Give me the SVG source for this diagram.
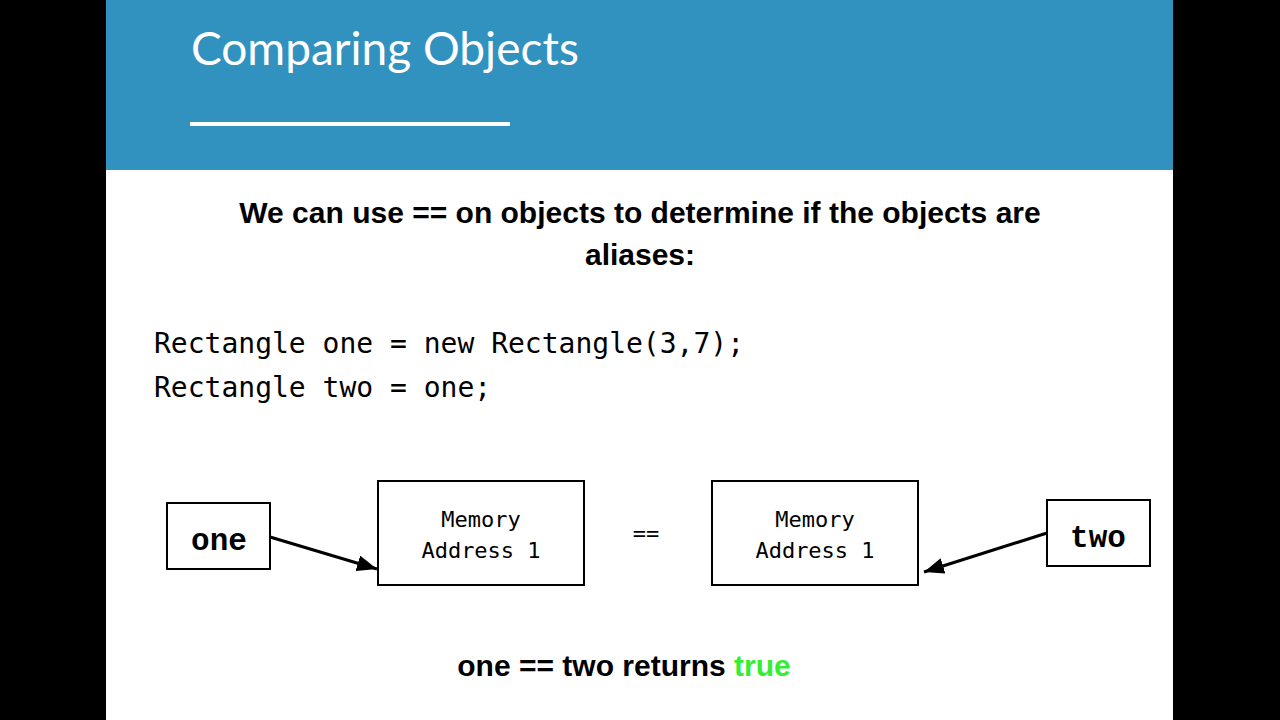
<svg xmlns="http://www.w3.org/2000/svg" width="1280" height="720" viewBox="0 0 1280 720">
<style>
.box{fill:#fff;stroke:#000;stroke-width:2}
.mono{font-family:"DejaVu Sans Mono","Liberation Mono",monospace;fill:#000}
.b{font-family:"Liberation Sans","Noto Sans",sans-serif;font-weight:bold;font-size:30px;fill:#000}
.cour{font-family:"Liberation Mono",monospace;font-weight:bold;font-size:31px;fill:#000}
</style>
<defs><marker id="ah" markerWidth="10" markerHeight="8" refX="9" refY="4" orient="auto" markerUnits="userSpaceOnUse"><path d="M0,0 L20,4 L0,8 Z" transform="scale(0.5,1)"/></marker>
<marker id="a2" viewBox="0 0 10 10" refX="10" refY="5" markerWidth="20" markerHeight="16" orient="auto" markerUnits="userSpaceOnUse" preserveAspectRatio="none"><path d="M0,0 L10,5 L0,10 Z"/></marker></defs>
<rect width="1280" height="720" fill="#000"/>
<rect x="106" y="0" width="1067" height="720" fill="#fff"/>
<rect x="106" y="0" width="1067" height="170" fill="#3292bf"/>
<text x="191" y="65" font-family="Lato,'Open Sans',sans-serif" font-size="46" fill="#fff">Comparing Objects</text>
<rect x="190" y="122" width="320" height="4" fill="#fff"/>
<text class="b" x="640" y="223" text-anchor="middle">We can use == on objects to determine if the objects are</text>
<text class="b" x="640" y="265" text-anchor="middle">aliases:</text>
<text class="mono" x="154" y="353" font-size="28">Rectangle one = new Rectangle(3,7);</text>
<text class="mono" x="154" y="397" font-size="28">Rectangle two = one;</text>
<g id="connectors" stroke="#000" stroke-width="3">
<line x1="270" y1="537" x2="377" y2="569" marker-end="url(#a2)"/>
<line x1="1047" y1="533" x2="924" y2="572" marker-end="url(#a2)"/>
</g>
<g id="one"><rect class="box" x="167" y="503" width="103" height="66"/><text class="cour" x="219" y="550" text-anchor="middle">one</text></g>
<g id="mem1"><rect class="box" x="378" y="481" width="206" height="104"/><text class="mono" font-size="22" x="481" y="527" text-anchor="middle">Memory</text><text class="mono" font-size="22" x="481" y="558" text-anchor="middle">Address 1</text></g>
<g id="eq"><text class="mono" font-size="22" x="646" y="541" text-anchor="middle">==</text></g>
<g id="mem2"><rect class="box" x="712" y="481" width="206" height="104"/><text class="mono" font-size="22" x="815" y="527" text-anchor="middle">Memory</text><text class="mono" font-size="22" x="815" y="558" text-anchor="middle">Address 1</text></g>
<g id="two"><rect class="box" x="1047" y="500" width="103" height="66"/><text class="cour" x="1098" y="547" text-anchor="middle">two</text></g>
<text class="b" x="624" y="676" text-anchor="middle">one == two returns <tspan fill="#33ee33">true</tspan></text>
</svg>
